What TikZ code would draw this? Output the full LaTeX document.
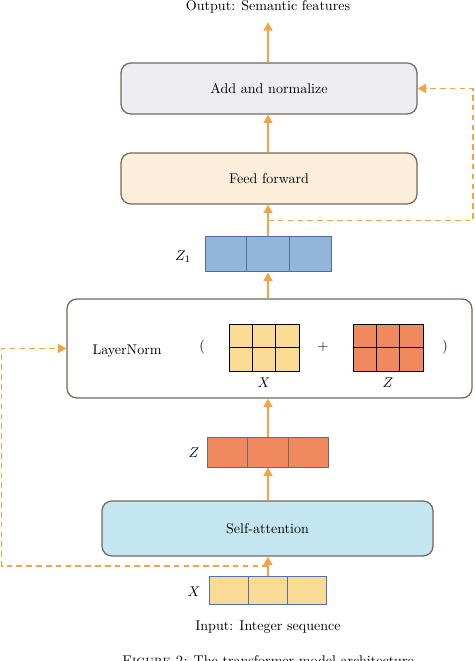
\documentclass[tikz,border=0pt]{standalone}
\usepackage{amsmath,amssymb}
\usepackage{tikz}
\usetikzlibrary{calc}
\usetikzlibrary{arrows.meta}
\definecolor{flowc}{RGB}{244,164,72}
\definecolor{edgec}{RGB}{118,104,90}
\definecolor{addc}{RGB}{238,238,242}
\definecolor{ffc}{RGB}{253,238,220}
\definecolor{sac}{RGB}{196,230,240}
\definecolor{zonec}{RGB}{145,182,218}
\definecolor{zoneline}{RGB}{78,110,160}
\definecolor{xc}{RGB}{250,219,148}
\definecolor{xline}{RGB}{84,112,180}
\definecolor{zc}{RGB}{240,138,94}
\tikzset{
  block/.style={draw=edgec,line width=0.9pt,rounded corners=7pt,minimum width=7.4cm,minimum height=1.275cm},
  vecbox/.style={draw,line width=0.7pt,inner sep=0pt},
  flow/.style={draw=flowc,line width=1pt,-{Triangle[width=6.5pt,length=6pt]}},
  back/.style={draw=flowc,line width=1pt,dashed,dash pattern=on 4pt off 3pt},
}
\begin{document}
\begin{tikzpicture}
					\useasboundingbox (0,0) rectangle (11.85,16.525);
					\def\cx{6.7};
					% blocks
					\node[block,fill=addc] (addn) at (6.725,14.3125) {Add and normalize};
					\node[block,fill=ffc] (ff) at (6.725,12.0625) {Feed forward};
					\node[block,fill=white,minimum width=10.125cm,minimum height=2.475cm] (ln) at (6.7375,7.8125) {};
					\node[block,fill=sac,minimum width=8.275cm,minimum height=1.375cm] (sa) at (6.6875,3.3125) {Self-attention};
					% vectors
					\node[vecbox,draw=zoneline,fill=zonec,minimum width=3.15cm,minimum height=0.875cm] (z1) at (\cx,10.1625) {};
					\node[vecbox,draw=edgec,fill=zc,minimum width=3.025cm,minimum height=0.75cm] (zrow) at (\cx,5.225) {};
					\node[vecbox,draw=xline,fill=xc,minimum width=2.925cm,minimum height=0.7cm] (xrow) at (\cx,1.775) {};
					\foreach \v/\c in {z1/zoneline,zrow/edgec,xrow/xline}
					  \foreach \i in {1,2}
					    \draw[\c,line width=0.7pt] ($(\v.south west)!\i/3!(\v.south east)$) -- ($(\v.north west)!\i/3!(\v.north east)$);
					% matrices inside LayerNorm
					\node[vecbox,draw=black,fill=xc,minimum width=1.75cm,minimum height=1.175cm] (xmat) at (6.6,7.8375) {};
					\node[vecbox,draw=black,fill=zc,minimum width=1.75cm,minimum height=1.175cm] (zmat) at (9.7,7.8375) {};
					\foreach \m in {xmat,zmat}{
					  \foreach \i in {1,2}
					    \draw[line width=0.7pt] ($(\m.south west)!\i/3!(\m.south east)$) -- ($(\m.north west)!\i/3!(\m.north east)$);
					  \draw[line width=0.7pt] (\m.west) -- (\m.east);
					}
					\node (lntext) at (3.175,7.75) {LayerNorm};
					\node (lpar) at (5.05,7.85) {(};
					\node (plus) at (8.075,7.85) {+};
					\node (rpar) at (11.125,7.85) {)};
					\node (xmatlab) at (6.6,6.95) {$X$};
					\node (zmatlab) at (9.7,6.95) {$Z$};
					% labels
					\node (z1lab) at (4.575,10.1) {$Z_1$};
					\node (zlab) at (4.85,5.2) {$Z$};
					\node (xlab) at (4.85,1.725) {$X$};
					\node (out) at (\cx,16.35) {Output: Semantic features};
					\node (in) at (\cx,0.85) {Input: Integer sequence};
					\node[anchor=north,inner sep=0pt] (cap) at (\cx,0.15) {\textsc{Figure 2}: The transformer model architecture};
					% main flow
					\draw[flow] (addn.north -| out) -- ($(out.south)+(0,-0.1)$);
					\draw[flow] (ff.north -| out) -- (addn.south -| out);
					\draw[flow] (z1) -- (ff.south -| z1);
					\draw[flow] (ln.north -| z1) -- (z1);
					\draw[flow] (zrow) -- (ln.south -| zrow);
					\draw[flow] (sa.north -| zrow) -- (zrow);
					\draw[flow] (xrow) -- (sa.south -| xrow);
					% residual paths
					\coordinate (rtop) at ($(z1.north)!0.5!(ff.south -| z1)$);
					\coordinate (redge) at (11.82,0);
					\coordinate (rbot) at ($(xrow.north)!0.5!(sa.south -| xrow)$);
					\coordinate (ledge) at (0.04,0);
					\draw[back,-{Triangle[width=6.5pt,length=6pt]}] (rtop) -- (rtop -| redge) |- (addn.east);
					\draw[back,-{Triangle[width=6.5pt,length=6pt]}] (rbot) -- (rbot -| ledge) |- (ln.west);
				\end{tikzpicture}
\end{document}
